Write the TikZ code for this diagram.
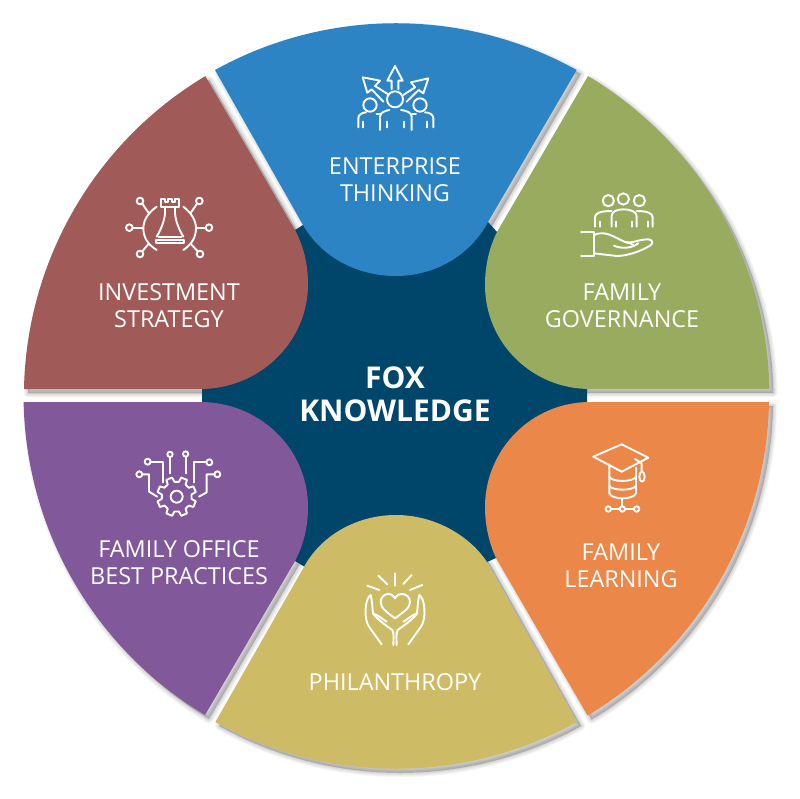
\documentclass[tikz,border=0pt]{standalone}
\usepackage{fontspec}
\setmainfont{Open Sans}
\definecolor{cnavy}{HTML}{00466B}
\definecolor{cblue}{HTML}{2C84C4}
\definecolor{cgreen}{HTML}{99AB5F}
\definecolor{corange}{HTML}{EB8749}
\definecolor{cyellow}{HTML}{CDBB65}
\definecolor{cpurple}{HTML}{81589A}
\definecolor{cbrown}{HTML}{A05B58}
\def\secBlue{(215,70) arc[start angle=-119,end angle=-61,radius=373] -- (488,222) .. controls (470,256) and (434,276) .. (396,276) .. controls (358,276) and (322,258) .. (303,225) -- cycle}
\def\secGreen{(588,76) arc[start angle=-59.1,end angle=-1.1,radius=373] -- (590,389) .. controls (532,389) and (485,343) .. (485,285) .. controls (485,266) and (489,248) .. (497,232) -- cycle}
\def\secOrange{(769,402) arc[start angle=1,end angle=59.1,radius=373] -- (496,558) .. controls (489,543) and (485,525) .. (485,507) .. controls (485,449) and (532,402) .. (590,402) -- cycle}
\def\secYellow{(577,722) arc[start angle=61,end angle=119,radius=373] -- (305,565) .. controls (323,534) and (358,515) .. (396,515) .. controls (434,515) and (469,535) .. (487,562) -- cycle}
\def\secPurple{(205,715) arc[start angle=120.9,end angle=178.9,radius=373] -- (200,402) .. controls (260,402) and (308,449) .. (308,507) .. controls (308,526) and (304,544) .. (295,561) -- cycle}
\def\secBrown{(24,389) arc[start angle=181.1,end angle=239.1,radius=373] -- (295,230) .. controls (304,247) and (308,265) .. (308,284) .. controls (308,342) and (260,389) .. (200,389) -- cycle}
\tikzset{
  lbl/.style={text=white,font=\fontsize{23.4}{27}\selectfont,align=center,inner sep=0pt},
  hublbl/.style={text=white,font=\fontsize{30}{33}\selectfont\bfseries,align=center,inner sep=0pt},
  ico/.style={draw=white,line width=1.9pt,line cap=round,line join=round},
  zoomed/.style={x=0.33333pt,y=-0.33333pt}
}
\newcommand{\shad}[1]{%
  \foreach \w in {9,7.5,6,4.5,3,1.5,0.5}{%
    \filldraw[black,opacity=0.028,line width=\w pt,line join=round,shift={(4,4)}] #1;}}
\begin{document}
\begin{tikzpicture}[x=1pt,y=-1pt]
\useasboundingbox (0,0) rectangle (800,799);
\fill[white] (0,0) rectangle (800,799);
% shadows
\shad{\secBlue}\shad{\secGreen}\shad{\secOrange}\shad{\secYellow}\shad{\secPurple}\shad{\secBrown}
% hub
\fill[cnavy] (202,389) -- (202,402) -- (295,561) -- (305,567) -- (487,562) -- (496,558) -- (587,402) -- (587,389) -- (497,232) -- (488,222) -- (303,225) -- (295,230) -- cycle;
% sectors
\fill[cblue] \secBlue;
\fill[cgreen] \secGreen;
\fill[corange] \secOrange;
\fill[cyellow] \secYellow;
\fill[cpurple] \secPurple;
\fill[cbrown] \secBrown;
% labels
\node[hublbl] (hub) at (395,394) {FOX\\KNOWLEDGE};
\node[lbl] (enterprise) at (395,180) {ENTERPRISE\\THINKING};
\node[lbl] (governance) at (622,306) {FAMILY\\GOVERNANCE};
\node[lbl] (learning) at (621,566) {FAMILY\\LEARNING};
\node[lbl] (philanthropy) at (395,682) {PHILANTHROPY};
\node[lbl] (office) at (179,563) {FAMILY OFFICE\\BEST PRACTICES};
\node[lbl] (investment) at (169,306) {INVESTMENT\\STRATEGY};
% icon: enterprise
\begin{scope}[shift={(340,50)},zoomed]
\draw[ico] (165,148) circle[radius=24];
\draw[ico] (90,165) circle[radius=20];
\draw[ico] (240,165) circle[radius=20];
\draw[ico] (155,118) -- (155,92) -- (142,92) -- (165,48) -- (188,92) -- (175,92) -- (175,118);
\draw[ico] (143,132) -- (105,108) -- (120,92) -- (68,82) -- (82,128) -- (95,118) -- (130,155);
\draw[ico] (190,135) -- (225,112) -- (213,97) -- (265,85) -- (250,130) -- (236,120) -- (200,155);
\draw[ico] (120,240) -- (120,200) .. controls (120,188) and (135,182) .. (148,180);
\draw[ico] (215,240) -- (215,200) .. controls (215,188) and (200,182) .. (183,180);
\draw[ico] (55,232) -- (55,205) .. controls (55,194) and (65,188) .. (78,187);
\draw[ico] (110,192) -- (118,192);
\draw[ico] (280,232) -- (280,205) .. controls (280,194) and (270,188) .. (255,187);
\draw[ico] (217,192) -- (228,192);
\foreach \x in {68,140,193,262}{\draw[ico] (\x,215) -- (\x,232);}
\end{scope}
% icon: governance
\begin{scope}[shift={(570,180)},zoomed]
\draw[ico] (115,62) circle[radius=17];
\draw[ico] (160,57) circle[radius=17];
\draw[ico] (208,62) circle[radius=17];
\draw[ico] (125,140) -- (125,108) .. controls (125,95) and (140,88) .. (160,88) .. controls (180,88) and (200,95) .. (200,108) -- (200,140);
\draw[ico] (75,140) -- (75,112) .. controls (75,100) and (90,93) .. (125,93);
\draw[ico] (248,140) -- (248,112) .. controls (248,100) and (232,93) .. (200,93);
\foreach \x in {90,138,185,233}{\draw[ico] (\x,125) -- (\x,140);}
\draw[ico] (33,155) -- (72,155) -- (72,228) -- (33,228);
\draw[ico] (72,165) .. controls (105,150) and (130,170) .. (165,186) .. controls (185,192) and (205,178) .. (235,178) .. controls (250,180) and (250,190) .. (240,197) .. controls (210,215) and (170,228) .. (140,228) -- (72,220);
\draw[ico] (132,197) .. controls (150,205) and (180,208) .. (205,190);
\draw[ico] (165,186) .. controls (180,190) and (190,192) .. (192,198);
\end{scope}
% icon: learning
\begin{scope}[shift={(580,435)},zoomed]
\draw[ico] (40,65) -- (125,28) -- (205,68) -- (125,110) -- cycle;
\draw[ico] (165,72) -- (185,85) -- (185,110);
\draw[ico] (186,125) ellipse[x radius=8,y radius=15];
\draw[ico] (88,88) -- (88,175) .. controls (95,195) and (160,195) .. (168,175) -- (168,98);
\draw[ico] (88,125) .. controls (95,142) and (160,142) .. (168,125);
\draw[ico] (88,152) .. controls (95,168) and (160,168) .. (168,152);
\draw[ico] (127,192) -- (127,212);
\draw[ico] (93,222) -- (119,222);
\draw[ico] (135,222) -- (162,222);
\foreach \x in {85,127,170}{\draw[ico] (\x,222) circle[radius=8];}
\end{scope}
% icon: philanthropy
\begin{scope}[shift={(350,565)},zoomed]
\draw[ico] (135,25) -- (135,62);
\draw[ico] (85,32) -- (112,58);
\draw[ico] (185,30) -- (160,57);
\draw[ico] (52,62) -- (88,75);
\draw[ico] (217,60) -- (180,75);
\draw[ico] (135,160) .. controls (115,145) and (92,130) .. (92,112) .. controls (92,85) and (125,78) .. (135,100) .. controls (145,78) and (180,85) .. (180,112) .. controls (180,130) and (155,145) .. (135,160) -- cycle;
\foreach \s in {1,-1}{
\begin{scope}[xshift=135*0.33333pt,x=\s*0.33333pt]
\draw[ico] (73,90) .. controls (90,100) and (95,160) .. (78,185) -- (40,238);
\draw[ico] (73,90) .. controls (68,110) and (68,130) .. (66,145) .. controls (50,150) and (35,165) .. (25,170);
\draw[ico] (66,145) .. controls (62,155) and (30,180) .. (8,195) .. controls (2,205) and (5,225) .. (5,240);
\end{scope}}
\end{scope}
% icon: office
\begin{scope}[shift={(125,445)},zoomed]
\draw[ico] (155,155) circle[radius=18];
\foreach \a in {22.5,67.5,...,337.5}{
  \draw[ico] ({155+45*cos(\a-30)},{155+45*sin(\a-30)}) -- ({155+45*cos(\a-14)},{155+45*sin(\a-14)}) -- ({155+59*cos(\a-9)},{155+59*sin(\a-9)}) -- ({155+59*cos(\a+9)},{155+59*sin(\a+9)}) -- ({155+45*cos(\a+14)},{155+45*sin(\a+14)});
}
\draw[ico] (135,28) circle[radius=8];
\draw[ico] (182,27) circle[radius=8];
\draw[ico] (135,36) -- (135,85);
\draw[ico] (182,35) -- (182,85);
\draw[ico] (68,50) circle[radius=9];
\draw[ico] (77,50) -- (115,50) -- (115,112);
\draw[ico] (253,52) circle[radius=9];
\draw[ico] (244,52) -- (207,52) -- (207,112);
\draw[ico] (43,88) circle[radius=9];
\draw[ico] (52,88) -- (72,88) -- (72,140) -- (97,155);
\draw[ico] (277,88) circle[radius=9];
\draw[ico] (268,88) -- (245,88) -- (245,142) -- (222,155);
\end{scope}
% icon: investment
\begin{scope}[shift={(120,185)},zoomed]
\draw[ico] (110,65) .. controls (82,85) and (70,108) .. (70,130) .. controls (70,155) and (82,178) .. (110,195);
\draw[ico] (190,65) .. controls (216,85) and (228,108) .. (228,130) .. controls (228,155) and (216,178) .. (190,195);
\foreach \p/\q in {60/48,28/128,60/207,238/48,267/128,240/207}{\draw[ico] (\p,\q) circle[radius=10];}
\draw[ico] (67,56) -- (86,84);
\draw[ico] (38,128) -- (70,128);
\draw[ico] (67,199) -- (86,176);
\draw[ico] (231,56) -- (212,84);
\draw[ico] (257,128) -- (228,128);
\draw[ico] (233,199) -- (212,176);
\draw[ico] (122,65) -- (122,42) -- (135,42) -- (135,50) -- (143,50) -- (143,42) -- (156,42) -- (156,50) -- (164,50) -- (164,42) -- (176,42) -- (176,65) -- cycle;
\draw[ico] (135,67) -- (135,85) .. controls (133,110) and (122,135) .. (110,155);
\draw[ico] (165,67) -- (165,85) .. controls (167,110) and (178,135) .. (190,155);
\draw[ico] (116,155) -- (184,155);
\draw[ico] (108,164) rectangle (192,175);
\end{scope}
\end{tikzpicture}
\end{document}
